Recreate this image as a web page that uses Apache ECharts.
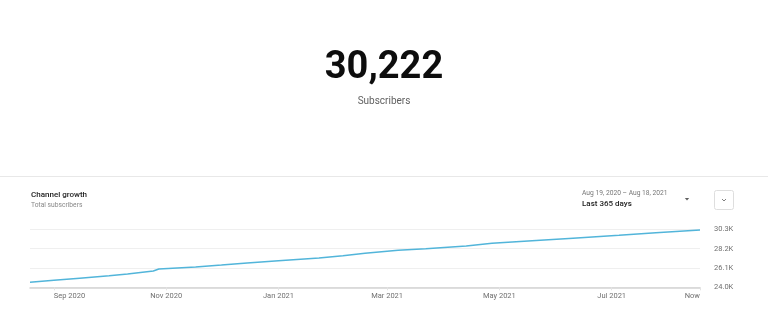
<!DOCTYPE html>
<html>
<head>
<meta charset="utf-8">
<script src="https://cdn.jsdelivr.net/npm/echarts@6/dist/echarts.min.js"></script>
<style>
html,body{margin:0;padding:0;background:#fff;}
#chart{width:768px;height:318px;}
</style>
</head>
<body>
<div id="chart"></div>
<script>
var totalSubscribers = '30,222';
var dates = ['2020-08-19','2020-09-01','2020-09-15','2020-10-01','2020-10-11','2020-10-25','2020-10-28','2020-11-17','2020-12-01','2020-12-15','2021-01-01','2021-01-23','2021-02-05','2021-02-17','2021-03-07','2021-03-22','2021-04-13','2021-04-27','2021-05-21','2021-06-10','2021-07-05','2021-07-25','2021-08-18'];
var subscribers = [24543,24760,24990,25260,25445,25770,25990,26205,26420,26640,26890,27183,27430,27693,28019,28200,28486,28780,29083,29340,29648,29930,30222];
var yTicks = [24000,26100,28200,30300];
var yTickLabels = ['24.0K','26.1K','28.2K','30.3K'];
var xTickDates = ['2020-09-01','2020-11-01','2021-01-01','2021-03-01','2021-05-01','2021-07-01','2021-08-18'];
var xTickLabels = ['Sep 2020','Nov 2020','Jan 2021','Mar 2021','May 2021','Jul 2021','Now'];

var FONT = 'Roboto, "Noto Sans", sans-serif';
function ts(d){return Date.UTC(+d.slice(0,4), +d.slice(5,7)-1, +d.slice(8,10));}
var xTickValues = xTickDates.map(ts);
var seriesData = dates.map(function(d,i){return [ts(d), subscribers[i]];});

var chart = echarts.init(document.getElementById('chart'));
chart.setOption({
  animation:false,
  backgroundColor:'#fff',
  grid:{left:30,right:68,top:229.3,bottom:30.7,containLabel:false},
  xAxis:{
    type:'value',
    min:ts(dates[0]),
    max:ts(dates[dates.length-1]),
    axisLine:{show:true,lineStyle:{color:'#d4d4d4',width:1.5}},
    axisTick:{show:true,customValues:xTickValues,length:3,lineStyle:{color:'#e4e4e4'}},
    axisLabel:{customValues:xTickValues,color:'#707070',fontSize:7.5,fontFamily:FONT,margin:5,alignMaxLabel:'right',
      rich:{first:{fontSize:7.5,fontFamily:FONT,color:'#707070',padding:[0,0,0,31]}},
      formatter:function(v){var i=xTickValues.indexOf(v);if(i===0)return '{first|'+xTickLabels[0]+'}';return i>=0?xTickLabels[i]:'';}},
    splitLine:{show:false}
  },
  yAxis:{
    type:'value',position:'right',min:yTicks[0],max:yTicks[yTicks.length-1],
    axisLine:{show:false},
    axisTick:{show:false,customValues:yTicks},
    axisLabel:{customValues:yTicks,color:'#707070',fontSize:7.5,fontFamily:FONT,margin:14,
      formatter:function(v){var i=yTicks.indexOf(v);return i>=0?yTickLabels[i]:'';}},
    splitLine:{show:true,lineStyle:{color:'#efefef',width:1}}
  },
  series:[{
    type:'line',data:seriesData,showSymbol:false,symbol:'none',
    lineStyle:{color:'#52b5da',width:1.5}
  }],
  graphic:[
    {type:'text',x:384,y:68.5,style:{text:totalSubscribers,font:'bold 38px '+FONT,fill:'#0d0d0d',align:'center',verticalAlign:'middle'}},
    {type:'text',x:384,y:101.7,style:{text:'Subscribers',font:'10px '+FONT,fill:'#606060',align:'center',verticalAlign:'middle'}},
    {type:'rect',shape:{x:0,y:176,width:768,height:1},style:{fill:'#e8e8e8'}},
    {type:'text',x:31,y:194.7,style:{text:'Channel growth',font:'500 8px '+FONT,fill:'#222',verticalAlign:'middle'}},
    {type:'text',x:31,y:205.7,style:{text:'Total subscribers',font:'6.7px '+FONT,fill:'#888',verticalAlign:'middle'}},
    {type:'text',x:582,y:193.3,style:{text:'Aug 19, 2020 \u2013 Aug 18, 2021',font:'6.7px '+FONT,fill:'#777',verticalAlign:'middle'}},
    {type:'text',x:582,y:204,style:{text:'Last 365 days',font:'500 8px '+FONT,fill:'#222',verticalAlign:'middle'}},
    {type:'polygon',shape:{points:[[684.8,198],[689.2,198],[687,200.6]]},style:{fill:'#606060'}},
    {type:'rect',shape:{x:714.5,y:190.5,width:19,height:19,r:2},style:{fill:'#fff',stroke:'#dedede',lineWidth:1}},
    {type:'polyline',shape:{points:[[722,199],[724,201],[726,199]]},style:{stroke:'#707070',lineWidth:0.9,fill:null}}
  ]
});
</script>
</body>
</html>
